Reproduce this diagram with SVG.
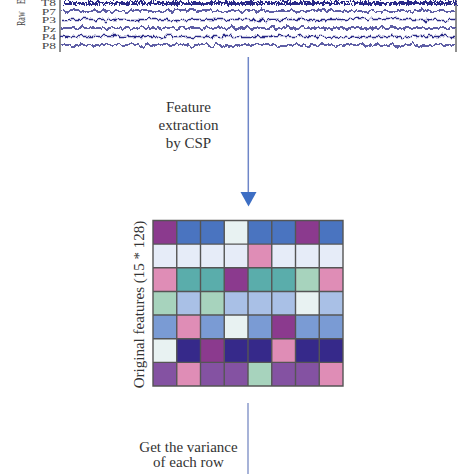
<svg xmlns="http://www.w3.org/2000/svg" width="474" height="474" viewBox="0 0 474 474">
<style>
text{font-family:"Liberation Serif","Times New Roman",serif;fill:#333}
.lbl{font-size:15px;text-anchor:middle}
.ch{font-size:9px;text-anchor:end;fill:#444}
.tr{fill:none;stroke:#2a2a88;stroke-width:1.5}
.P{fill:#8b3a8e}.B{fill:#4a74c0}.W{fill:#e8f2f2}.L{fill:#e6ecf8}.K{fill:#df8db6}.T{fill:#5aadab}.G{fill:#a7d3bd}.A{fill:#a9c0e6}.M{fill:#7a9bd4}.D{fill:#36298a}.V{fill:#8452a2}
</style>
<defs>
<filter id="wig" filterUnits="userSpaceOnUse" x="50" y="-10" width="420" height="70" color-interpolation-filters="sRGB">
<feTurbulence type="fractalNoise" baseFrequency="0.2 0.07" numOctaves="3" seed="7" result="n"/>
<feDisplacementMap in="SourceGraphic" in2="n" scale="8" xChannelSelector="A" yChannelSelector="G"/>
</filter>
<filter id="wig2" filterUnits="userSpaceOnUse" x="50" y="-10" width="420" height="30" color-interpolation-filters="sRGB">
<feTurbulence type="turbulence" baseFrequency="0.4 0.2" numOctaves="2" seed="2" result="n"/>
<feDisplacementMap in="SourceGraphic" in2="n" scale="7" xChannelSelector="A" yChannelSelector="G"/>
</filter>
</defs>

<g id="raw-eeg">
<text transform="translate(25,26) scale(1.5,1) rotate(-90)" style="font-size:8px;word-spacing:5px;fill:#444">Raw E</text>
<text class="ch" transform="translate(56,6) scale(1.5,1)">T8</text>
<text class="ch" transform="translate(56,14.5) scale(1.5,1)">P7</text>
<text class="ch" transform="translate(56,23) scale(1.5,1)">P3</text>
<text class="ch" transform="translate(56,31.5) scale(1.5,1)">Pz</text>
<text class="ch" transform="translate(56,40) scale(1.5,1)">P4</text>
<text class="ch" transform="translate(56,48.5) scale(1.5,1)">P8</text>
<path d="M60,0V52M456,0V52" stroke="#444" stroke-width="1.2" fill="none"/>
<path class="tr" filter="url(#wig2)" style="stroke-width:3" d="M62,1.5H455"/>
<path class="tr" filter="url(#wig)" d="M62,11H455M62,19.5H455M62,28H455M62,36.5H455M62,45H455"/>
</g>

<g id="connectors">
<line x1="248.3" y1="57" x2="248.3" y2="193" stroke="#6f86c8" stroke-width="1.5"/>
<polygon points="240.5,192 256.5,192 248.5,206.5" fill="#3d6ec4"/>
<line x1="248" y1="403" x2="248" y2="474" stroke="#8a9acb" stroke-width="1.5"/>
</g>

<g id="label-csp">
<text class="lbl" x="188.5" y="111.5">Feature</text>
<text class="lbl" x="188.5" y="130">extraction</text>
<text class="lbl" x="188.5" y="148">by CSP</text>
</g>

<g id="original-features">
<text class="lbl" transform="translate(143.5,304.5) rotate(-90)">Original features (15 * 128)</text>
<g transform="translate(153,220.5)">
<g>
<rect class="P" x="0" y="0" width="23.75" height="23.64"/><rect class="B" x="23.75" y="0" width="23.75" height="23.64"/><rect class="B" x="47.5" y="0" width="23.75" height="23.64"/><rect class="W" x="71.25" y="0" width="23.75" height="23.64"/><rect class="B" x="95" y="0" width="23.75" height="23.64"/><rect class="B" x="118.75" y="0" width="23.75" height="23.64"/><rect class="P" x="142.5" y="0" width="23.75" height="23.64"/><rect class="B" x="166.25" y="0" width="23.75" height="23.64"/>
</g>
<g transform="translate(0,23.64)">
<rect class="L" x="0" y="0" width="23.75" height="23.64"/><rect class="L" x="23.75" y="0" width="23.75" height="23.64"/><rect class="L" x="47.5" y="0" width="23.75" height="23.64"/><rect class="L" x="71.25" y="0" width="23.75" height="23.64"/><rect class="K" x="95" y="0" width="23.75" height="23.64"/><rect class="L" x="118.75" y="0" width="23.75" height="23.64"/><rect class="L" x="142.5" y="0" width="23.75" height="23.64"/><rect class="L" x="166.25" y="0" width="23.75" height="23.64"/>
</g>
<g transform="translate(0,47.29)">
<rect class="K" x="0" y="0" width="23.75" height="23.64"/><rect class="T" x="23.75" y="0" width="23.75" height="23.64"/><rect class="T" x="47.5" y="0" width="23.75" height="23.64"/><rect class="P" x="71.25" y="0" width="23.75" height="23.64"/><rect class="T" x="95" y="0" width="23.75" height="23.64"/><rect class="T" x="118.75" y="0" width="23.75" height="23.64"/><rect class="G" x="142.5" y="0" width="23.75" height="23.64"/><rect class="K" x="166.25" y="0" width="23.75" height="23.64"/>
</g>
<g transform="translate(0,70.93)">
<rect class="G" x="0" y="0" width="23.75" height="23.64"/><rect class="A" x="23.75" y="0" width="23.75" height="23.64"/><rect class="G" x="47.5" y="0" width="23.75" height="23.64"/><rect class="A" x="71.25" y="0" width="23.75" height="23.64"/><rect class="A" x="95" y="0" width="23.75" height="23.64"/><rect class="A" x="118.75" y="0" width="23.75" height="23.64"/><rect class="W" x="142.5" y="0" width="23.75" height="23.64"/><rect class="A" x="166.25" y="0" width="23.75" height="23.64"/>
</g>
<g transform="translate(0,94.57)">
<rect class="M" x="0" y="0" width="23.75" height="23.64"/><rect class="K" x="23.75" y="0" width="23.75" height="23.64"/><rect class="M" x="47.5" y="0" width="23.75" height="23.64"/><rect class="W" x="71.25" y="0" width="23.75" height="23.64"/><rect class="M" x="95" y="0" width="23.75" height="23.64"/><rect class="P" x="118.75" y="0" width="23.75" height="23.64"/><rect class="M" x="142.5" y="0" width="23.75" height="23.64"/><rect class="M" x="166.25" y="0" width="23.75" height="23.64"/>
</g>
<g transform="translate(0,118.21)">
<rect class="W" x="0" y="0" width="23.75" height="23.64"/><rect class="D" x="23.75" y="0" width="23.75" height="23.64"/><rect class="P" x="47.5" y="0" width="23.75" height="23.64"/><rect class="D" x="71.25" y="0" width="23.75" height="23.64"/><rect class="D" x="95" y="0" width="23.75" height="23.64"/><rect class="K" x="118.75" y="0" width="23.75" height="23.64"/><rect class="D" x="142.5" y="0" width="23.75" height="23.64"/><rect class="D" x="166.25" y="0" width="23.75" height="23.64"/>
</g>
<g transform="translate(0,141.86)">
<rect class="V" x="0" y="0" width="23.75" height="23.64"/><rect class="K" x="23.75" y="0" width="23.75" height="23.64"/><rect class="V" x="47.5" y="0" width="23.75" height="23.64"/><rect class="V" x="71.25" y="0" width="23.75" height="23.64"/><rect class="G" x="95" y="0" width="23.75" height="23.64"/><rect class="V" x="118.75" y="0" width="23.75" height="23.64"/><rect class="V" x="142.5" y="0" width="23.75" height="23.64"/><rect class="K" x="166.25" y="0" width="23.75" height="23.64"/>
</g>
<path fill="none" stroke="#555" stroke-width="1.4" d="M0,0H190V165.5H0ZM23.75,0V165.5M47.5,0V165.5M71.25,0V165.5M95,0V165.5M118.75,0V165.5M142.5,0V165.5M166.25,0V165.5M0,23.64H190M0,47.29H190M0,70.93H190M0,94.57H190M0,118.21H190M0,141.86H190"/>
</g>
</g>

<g id="label-variance">
<text class="lbl" x="188.5" y="451.5">Get the variance</text>
<text class="lbl" x="188.5" y="467">of each row</text>
</g>
</svg>
